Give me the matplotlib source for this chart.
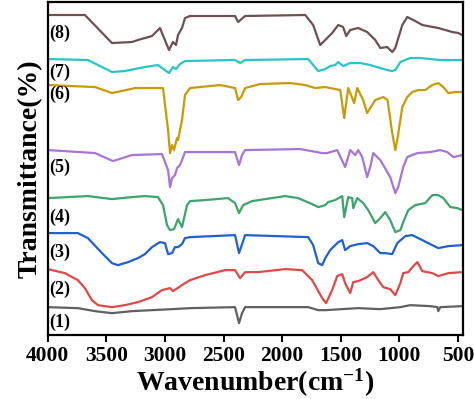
import numpy as np
import matplotlib
matplotlib.use("Agg")
import matplotlib.pyplot as plt

# FTIR spectra (wavenumber, offset transmittance in arbitrary units)
w8 = [4000, 3684, 3453, 3282, 3231, 3111, 3043, 2966, 2932, 2906, 2889, 2855, 2829, 2786, 2547, 2402, 2376, 2316,
      1803, 1735, 1675, 1632, 1573, 1521, 1479, 1453, 1419, 1350, 1274, 1205, 1162, 1103, 1060, 1034, 974, 932, 880,
      803, 667, 547, 496, 462]
t8 = [320, 320, 292, 293, 295, 299, 307, 285, 293, 290, 300, 307, 317, 319, 319, 319, 313, 319,
      320, 310, 290, 295, 302, 310, 308, 299, 305, 307, 303, 295, 287, 288, 283, 287, 310, 318, 315,
      310, 307, 303, 302, 300]

w7 = [4000, 3658, 3453, 3342, 3171, 3060, 2966, 2932, 2906, 2872, 2829, 2402, 2359, 2316, 1778, 1692, 1632, 1590,
      1547, 1521, 1479, 1419, 1333, 1248, 1162, 1103, 1060, 1034, 991, 906, 821, 650, 462]
t7 = [276, 275, 263, 264, 268, 270, 262, 268, 266, 271, 274, 275, 272, 275, 276, 264, 266, 269,
      270, 273, 269, 272, 272, 270, 267, 265, 264, 265, 273, 277, 277, 275, 275]

w6 = [4000, 3598, 3453, 3410, 3256, 3017, 2974, 2957, 2940, 2923, 2897, 2889, 2855, 2829, 2786, 2701, 2530, 2402,
      2376, 2350, 2316, 2188, 1932, 1803, 1718, 1632, 1504, 1470, 1436, 1385, 1359, 1308, 1274, 1205, 1137, 1100,
      1060, 1034, 1017, 974, 932, 889, 838, 778, 718, 667, 624, 581, 521, 462]
t6 = [250, 248, 242, 243, 247, 247, 205, 182, 190, 185, 197, 195, 215, 240, 247, 248, 250, 247,
      235, 238, 247, 251, 252, 250, 247, 248, 245, 217, 247, 232, 247, 235, 222, 235, 238, 235,
      202, 185, 195, 228, 238, 243, 245, 245, 250, 252, 248, 242, 243, 243]

w5 = [4000, 3598, 3444, 3282, 3026, 2974, 2957, 2940, 2915, 2897, 2872, 2855, 2829, 2402, 2368, 2342, 2316, 1846,
      1658, 1615, 1530, 1462, 1419, 1376, 1350, 1316, 1274, 1248, 1222, 1162, 1137, 1077, 1034, 1009, 966, 932,
      846, 735, 650, 590, 538, 462]
t5 = [185, 182, 174, 180, 181, 165, 148, 157, 160, 167, 170, 175, 183, 183, 170, 180, 185, 186,
      182, 182, 185, 168, 185, 180, 185, 178, 158, 168, 182, 175, 170, 158, 142, 148, 168, 178,
      182, 183, 185, 183, 178, 180]

w4 = [4000, 3658, 3453, 3282, 3171, 3060, 3017, 2983, 2957, 2923, 2889, 2855, 2812, 2786, 2658, 2462, 2402, 2368,
      2333, 2256, 2145, 1974, 1863, 1744, 1692, 1632, 1607, 1547, 1487, 1470, 1436, 1402, 1393, 1359, 1308, 1265,
      1205, 1162, 1120, 1077, 1034, 991, 966, 923, 863, 778, 718, 667, 624, 564, 504, 462]
t4 = [137, 139, 136, 138, 139, 138, 130, 110, 105, 106, 116, 108, 130, 134, 135, 137, 132, 122,
      130, 134, 136, 139, 137, 131, 128, 130, 133, 135, 139, 118, 138, 137, 127, 137, 132, 125,
      112, 117, 123, 115, 103, 105, 113, 125, 130, 132, 140, 140, 137, 128, 127, 125]

w3 = [4000, 3744, 3658, 3538, 3453, 3402, 3316, 3231, 3171, 3111, 3043, 3000, 2974, 2940, 2915, 2889, 2855, 2829,
      2786, 2402, 2368, 2342, 2316, 1778, 1735, 1692, 1658, 1632, 1590, 1521, 1487, 1462, 1419, 1350, 1274, 1222,
      1162, 1120, 1060, 1017, 949, 889, 803, 718, 667, 581, 462]
t3 = [102, 102, 97, 82, 72, 70, 73, 77, 81, 88, 93, 92, 81, 82, 88, 88, 91, 97,
      98, 100, 82, 91, 100, 98, 90, 72, 70, 77, 85, 93, 95, 85, 89, 91, 92, 89,
      82, 82, 81, 92, 99, 100, 95, 90, 87, 89, 90]

w2 = [4000, 3855, 3744, 3684, 3624, 3573, 3453, 3342, 3231, 3111, 3026, 2957, 2932, 2855, 2786, 2658, 2487, 2402,
      2359, 2316, 2205, 1974, 1829, 1744, 1658, 1625, 1573, 1530, 1487, 1462, 1419, 1393, 1350, 1274, 1222, 1179,
      1137, 1077, 1034, 991, 966, 923, 880, 846, 803, 718, 667, 581, 462]
t2 = [66, 62, 55, 47, 35, 30, 28, 30, 33, 38, 45, 47, 44, 50, 55, 60, 65, 65,
      57, 63, 63, 66, 65, 55, 37, 32, 45, 59, 61, 52, 42, 53, 54, 58, 63, 55,
      48, 46, 40, 52, 62, 63, 69, 73, 64, 62, 59, 62, 63]

w1 = [4000, 3744, 3598, 3453, 3282, 3111, 2940, 2786, 2402, 2368, 2342, 2316, 1778, 1692, 1632, 1350, 1162, 991,
      906, 735, 675, 667, 650, 462]
t1 = [28, 27, 24, 22, 24, 25, 26, 27, 28, 12, 22, 28, 28, 25, 25, 27, 26, 28,
      30, 29, 28, 24, 28, 29]

labels = ["(1)", "(2)", "(3)", "(4)", "(5)", "(6)", "(7)", "(8)"]
label_y = [13, 46, 83, 118, 168, 241, 263, 302]
colors = ["#606060", "#e04848", "#2060d0", "#3ca46c", "#a874d8", "#c99a08", "#28c4c8", "#6e5054"]

series = [(w1, t1), (w2, t2), (w3, t3), (w4, t4), (w5, t5), (w6, t6), (w7, t7), (w8, t8)]

plt.rcParams['font.family'] = ['Liberation Serif', 'DejaVu Serif']
plt.rcParams['font.weight'] = 'bold'
plt.rcParams['mathtext.fontset'] = 'custom'
plt.rcParams['mathtext.rm'] = 'Liberation Serif:bold'
plt.rcParams['mathtext.bf'] = 'Liberation Serif:bold'
plt.rcParams['mathtext.default'] = 'bf'

fig = plt.figure(figsize=(4.74, 3.99), dpi=100)
ax = fig.add_axes([0.101, 0.160, 0.876, 0.835])

for (w, t), c in zip(series, colors):
    ax.plot(w, t, color=c, lw=1.6, solid_joinstyle='round')

for lab, y in zip(labels, label_y):
    ax.text(3988, y, lab, fontsize=13, fontweight='bold', ha='left', va='center')

ax.set_xlim(4000, 455)
ax.set_ylim(0, 333)
ax.set_xticks(np.arange(4000, 499, -500))
ax.set_yticks([])
ax.tick_params(axis='x', direction='out', length=5, width=1.5, labelsize=15.5, pad=3)
for lab in ax.get_xticklabels():
    lab.set_fontweight('bold')
for s in ax.spines.values():
    s.set_linewidth(1.6)

ax.set_xlabel("Wavenumber(cm$^{-1}$)", fontsize=20, fontweight='bold', labelpad=0)
ax.set_ylabel("Transmittance(%)", fontsize=20, fontweight='bold', labelpad=4)

fig.savefig("out.png", dpi=100)
